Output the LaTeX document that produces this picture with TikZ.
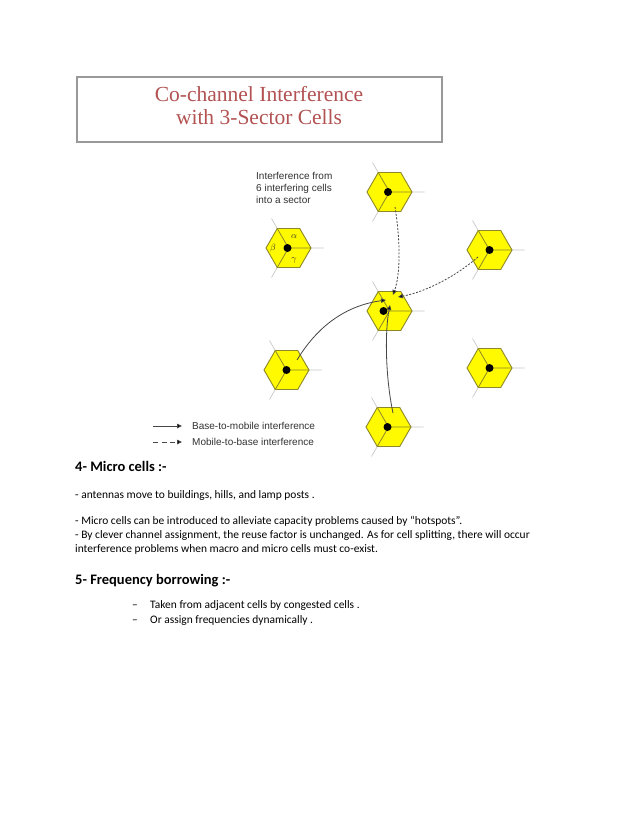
\documentclass[tikz,border=0pt]{standalone}
\usepackage{fontspec}
\setmainfont{Carlito}
\newfontfamily\titlefont{Liberation Serif}
\newfontfamily\arialfont{Liberation Sans}
\usetikzlibrary{shapes.geometric,arrows.meta}
\definecolor{titlered}{RGB}{178,82,82}
\definecolor{hexfill}{RGB}{255,250,0}
\definecolor{hexline}{RGB}{140,135,40}
\definecolor{extline}{RGB}{200,200,200}
\definecolor{arrowgray}{RGB}{70,70,70}
\definecolor{textgray}{RGB}{50,50,50}
\tikzset{
  cell/.style={regular polygon, regular polygon sides=6, minimum size=45pt, inner sep=0pt,
    fill=hexfill, draw=hexline, line width=0.9pt},
  bsdot/.style={circle, fill=black, minimum size=8pt, inner sep=0pt},
  interf/.style={draw=arrowgray, line width=0.8pt, -{Triangle[length=5pt,width=4.5pt,fill=black]}},
  mobint/.style={interf, dash pattern=on 2pt off 1.5pt},
  legtext/.style={anchor=base west, font=\arialfont\fontsize{10}{12}\selectfont, text=textgray, inner sep=0pt},
  bodytext/.style={anchor=base west, font=\fontsize{11.45}{13}\selectfont, inner sep=0pt},
  headtext/.style={anchor=base west, font=\bfseries\fontsize{14.5}{17}\selectfont, inner sep=0pt},
  titletext/.style={anchor=base, font=\titlefont\fontsize{21.5}{23}\selectfont, text=titlered, inner sep=0pt},
  greek/.style={font=\fontsize{9}{9}\selectfont, text=textgray, inner sep=0pt}
}
\newcommand{\sectorcell}[3]{%
  \draw[extline, line width=0.7pt] (#2) -- ++(0:35pt) (#2) -- ++(120:34pt) (#2) -- ++(240:34pt);
  \node[cell] (#1) at (#2) {};
  \draw[hexline, line width=0.8pt] (#1.center) -- ++(0:22.5pt) (#1.center) -- ++(120:22.5pt) (#1.center) -- ++(240:22.5pt);
  \node[bsdot] (#1dot) at ([xshift=#3]#1.center) {};
}
\begin{document}
\begin{tikzpicture}[x=1pt,y=-1pt]
\useasboundingbox (0,0) rectangle (638,826);
\fill[white] (0,0) rectangle (638,826);

% title box
\node[draw=gray!80, line width=1.2pt, minimum width=365pt, minimum height=65pt, inner sep=0pt] (titlebox) at (259.5,109.5) {};
\node[titletext] (title1) at (259,102) {Co-channel Interference};
\node[titletext] (title2) at (259,125) {with 3-Sector Cells};

% caption
\node[legtext] (cap1) at (256,179.5) {Interference from};
\node[legtext] (cap2) at (256,191.5) {6 interfering cells};
\node[legtext] (cap3) at (256,203.5) {into a sector};

% cells
\coordinate (pT) at (389.5,192);
\coordinate (pL) at (288.5,248);
\coordinate (pR) at (489.5,250);
\coordinate (pC) at (389.5,311);
\coordinate (pRM) at (489.5,368);
\coordinate (pLB) at (286.5,370);
\coordinate (pB) at (388.5,427);
\sectorcell{cT}{pT}{-1.5pt}
\sectorcell{cL}{pL}{-1pt}
\sectorcell{cR}{pR}{0pt}
\sectorcell{cC}{pC}{-6pt}
\sectorcell{cRM}{pRM}{0pt}
\sectorcell{cLB}{pLB}{0pt}
\sectorcell{cB}{pB}{-1pt}

% sector labels
\node[greek] (alpha) at (294,237) {$\alpha$};
\node[greek] (beta) at (273,248) {$\beta$};
\node[greek] (gamma) at (294,260) {$\gamma$};

% interference paths
\coordinate (sT) at (395,207);
\coordinate (tT) at (393,295);
\coordinate (sR) at (478,257);
\coordinate (tR) at (398,297);
\coordinate (sL) at (297,360);
\coordinate (tL) at (386,300);
\coordinate (sB) at (393,413);
\coordinate (tB) at (390,305);
\draw[mobint] (sT) .. controls (401,245) and (400,275) .. (tT);
\draw[mobint] (sR) .. controls (455,277) and (425,292) .. (tR);
\draw[interf] (sL) .. controls (320,322) and (350,305) .. (tL);
\draw[interf] (sB) .. controls (385,375) and (385,330) .. (tB);

% legend
\coordinate (l1a) at (153,426);
\coordinate (l1b) at (182,426);
\coordinate (l2a) at (153,442);
\coordinate (l2b) at (182,442);
\draw[interf] (l1a) -- (l1b);
\draw[interf, dash pattern=on 5pt off 3.5pt] (l2a) -- (l2b);
\node[legtext] (leg1) at (192,429.5) {Base-to-mobile interference};
\node[legtext] (leg2) at (192,445.5) {Mobile-to-base interference};

% body text
\node[headtext] (h4) at (75,471) {4- Micro cells :-};
\node[bodytext] (b1) at (75,498.5) {- antennas move to buildings, hills, and lamp posts .};
\node[bodytext] (b2) at (75,524.5) {- Micro cells can be introduced to alleviate capacity problems caused by “hotspots”.};
\node[bodytext] (b3) at (75,538.5) {- By clever channel assignment, the reuse factor is unchanged. As for cell splitting, there will occur};
\node[bodytext] (b4) at (75,552.5) {interference problems when macro and micro cells must co-exist.};
\node[headtext] (h5) at (75,584.5) {5- Frequency borrowing :-};
\node[bodytext] (d1) at (132,608.5) {–};
\node[bodytext] (i1) at (150,608.5) {Taken from adjacent cells by congested cells .};
\node[bodytext] (d2) at (132,623.5) {–};
\node[bodytext] (i2) at (150,623.5) {Or assign frequencies dynamically .};
\end{tikzpicture}
\end{document}
